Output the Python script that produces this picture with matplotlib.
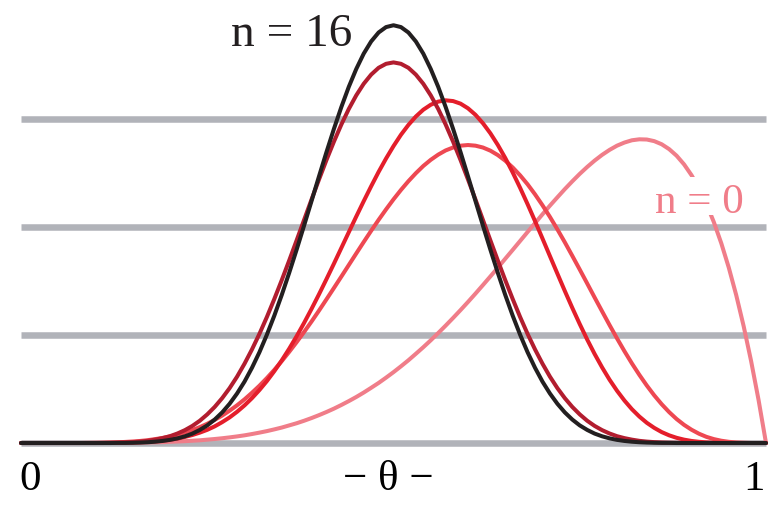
import matplotlib
matplotlib.use("Agg")
import matplotlib.pyplot as plt
from matplotlib.patches import Rectangle
import numpy as np

# theta grid (step 0.01)
theta = np.linspace(0, 1, 101)

# posterior densities, one per sample size n
n0 = [0.000, 0.000, 0.000, 0.000, 0.000, 0.000, 0.000, 0.000, 0.000, 0.000, 0.000, 0.000, 0.001, 0.001, 0.002, 0.003, 0.004,
      0.005, 0.007, 0.008, 0.011, 0.014, 0.017, 0.021, 0.025, 0.031, 0.037, 0.044, 0.052, 0.061, 0.071, 0.083, 0.096, 0.110,
      0.126, 0.143, 0.163, 0.183, 0.206, 0.231, 0.258, 0.287, 0.318, 0.352, 0.388, 0.426, 0.467, 0.511, 0.556, 0.605, 0.656,
      0.710, 0.766, 0.826, 0.887, 0.951, 1.018, 1.087, 1.158, 1.231, 1.306, 1.383, 1.462, 1.542, 1.623, 1.706, 1.788, 1.871,
      1.954, 2.036, 2.118, 2.198, 2.275, 2.351, 2.423, 2.492, 2.556, 2.615, 2.668, 2.714, 2.753, 2.782, 2.803, 2.812, 2.810,
      2.795, 2.766, 2.721, 2.660, 2.580, 2.480, 2.359, 2.215, 2.045, 1.849, 1.625, 1.370, 1.082, 0.759, 0.399, 0.000]
n4 = [0.000, 0.000, 0.000, 0.000, 0.000, 0.000, 0.000, 0.000, 0.000, 0.001, 0.002, 0.003, 0.004, 0.006, 0.010, 0.014, 0.019,
      0.026, 0.036, 0.047, 0.061, 0.077, 0.097, 0.120, 0.147, 0.178, 0.214, 0.254, 0.299, 0.349, 0.404, 0.465, 0.530, 0.601,
      0.677, 0.758, 0.844, 0.934, 1.028, 1.125, 1.226, 1.330, 1.435, 1.541, 1.648, 1.755, 1.861, 1.965, 2.066, 2.163, 2.256,
      2.343, 2.424, 2.498, 2.565, 2.622, 2.670, 2.709, 2.736, 2.753, 2.759, 2.753, 2.736, 2.707, 2.666, 2.614, 2.551, 2.478,
      2.395, 2.302, 2.201, 2.093, 1.978, 1.858, 1.733, 1.606, 1.477, 1.347, 1.219, 1.092, 0.969, 0.850, 0.737, 0.631, 0.532,
      0.441, 0.359, 0.286, 0.222, 0.168, 0.123, 0.086, 0.057, 0.036, 0.021, 0.011, 0.005, 0.002, 0.000, 0.000, 0.000]
n8 = [0.000, 0.000, 0.000, 0.000, 0.000, 0.000, 0.000, 0.000, 0.000, 0.000, 0.000, 0.000, 0.001, 0.002, 0.003, 0.004, 0.007,
      0.010, 0.015, 0.022, 0.030, 0.041, 0.056, 0.074, 0.096, 0.122, 0.154, 0.193, 0.237, 0.289, 0.348, 0.415, 0.490, 0.573,
      0.665, 0.765, 0.873, 0.989, 1.112, 1.242, 1.377, 1.517, 1.660, 1.806, 1.952, 2.097, 2.239, 2.377, 2.510, 2.634, 2.749,
      2.854, 2.945, 3.023, 3.086, 3.132, 3.161, 3.173, 3.166, 3.142, 3.099, 3.039, 2.961, 2.868, 2.760, 2.639, 2.505, 2.362,
      2.211, 2.054, 1.893, 1.730, 1.568, 1.407, 1.251, 1.101, 0.958, 0.824, 0.700, 0.586, 0.484, 0.393, 0.313, 0.245, 0.187,
      0.140, 0.101, 0.071, 0.048, 0.031, 0.019, 0.011, 0.006, 0.003, 0.001, 0.000, 0.000, 0.000, 0.000, 0.000, 0.000]
n12 = [0.000, 0.000, 0.000, 0.000, 0.000, 0.000, 0.000, 0.000, 0.000, 0.000, 0.000, 0.001, 0.002, 0.003, 0.005, 0.008, 0.013,
       0.020, 0.031, 0.045, 0.063, 0.088, 0.119, 0.158, 0.206, 0.265, 0.334, 0.415, 0.508, 0.614, 0.734, 0.866, 1.010, 1.166,
       1.333, 1.508, 1.690, 1.877, 2.066, 2.255, 2.440, 2.620, 2.790, 2.949, 3.093, 3.219, 3.326, 3.411, 3.474, 3.511, 3.524,
       3.511, 3.474, 3.411, 3.326, 3.219, 3.093, 2.949, 2.790, 2.620, 2.440, 2.255, 2.066, 1.877, 1.690, 1.508, 1.333, 1.166,
       1.010, 0.866, 0.734, 0.614, 0.508, 0.415, 0.334, 0.265, 0.206, 0.158, 0.119, 0.088, 0.063, 0.045, 0.031, 0.020, 0.013,
       0.008, 0.005, 0.003, 0.002, 0.001, 0.000, 0.000, 0.000, 0.000, 0.000, 0.000, 0.000, 0.000, 0.000, 0.000, 0.000]
n16 = [0.000, 0.000, 0.000, 0.000, 0.000, 0.000, 0.000, 0.000, 0.000, 0.000, 0.000, 0.000, 0.000, 0.001, 0.001, 0.002, 0.004,
       0.007, 0.012, 0.019, 0.029, 0.043, 0.062, 0.087, 0.121, 0.163, 0.217, 0.283, 0.363, 0.458, 0.568, 0.696, 0.840, 1.002,
       1.179, 1.371, 1.576, 1.791, 2.014, 2.241, 2.469, 2.693, 2.908, 3.111, 3.298, 3.463, 3.605, 3.718, 3.801, 3.851, 3.868,
       3.851, 3.801, 3.718, 3.605, 3.463, 3.298, 3.111, 2.908, 2.693, 2.469, 2.241, 2.014, 1.791, 1.576, 1.371, 1.179, 1.002,
       0.840, 0.696, 0.568, 0.458, 0.363, 0.283, 0.217, 0.163, 0.121, 0.087, 0.062, 0.043, 0.029, 0.019, 0.012, 0.007, 0.004,
       0.002, 0.001, 0.001, 0.000, 0.000, 0.000, 0.000, 0.000, 0.000, 0.000, 0.000, 0.000, 0.000, 0.000, 0.000, 0.000]

series = [n0, n4, n8, n12, n16]
colors = ["#f07d89", "#ee4852", "#e41e2b", "#b21d2f", "#231f20"]
grid_levels = [0, 1, 2, 3]
tick_labels = ["0", "\u2212 \u03b8 \u2212", "1"]
label_n0 = "n = 0"
label_n16 = "n = 16"

W, H = 783, 527
fig = plt.figure(figsize=(W / 100, H / 100), dpi=100)
ax = fig.add_axes([0, 0, 1, 1])
# pixel mapping: x=0 -> 21px, x=1 -> 766px ; y=0 -> 443px, 1 unit = 108px
x0, x1 = 21, 766
y0, yu = 443, 108
ax.set_xlim(-x0 / (x1 - x0), (W - x0) / (x1 - x0))
ax.set_ylim(-(H - y0) / yu, y0 / yu)
ax.axis("off")

ax.hlines(grid_levels, 0, 1, colors="#b1b3b9", linewidth=4.7, zorder=1, capstyle="butt")

for vals, c in zip(series, colors):
    ax.plot(theta, vals, color=c, linewidth=2.9, solid_capstyle="round",
            solid_joinstyle="round", zorder=3, clip_on=False)

font = "Liberation Serif"
fs = 31
ax.text(0.012, -0.435, tick_labels[0], ha="center", va="baseline", fontsize=fs, family=font)
ax.text(0.4926, -0.435, tick_labels[1], ha="center", va="baseline", fontsize=fs, family=font)
ax.text(0.984, -0.435, tick_labels[2], ha="center", va="baseline", fontsize=fs, family=font)

ax.text(0.363, 3.676, label_n16, ha="center", va="baseline", fontsize=34, family=font,
        color="#231f20", zorder=5)
# white knock-out behind the n = 0 label
ax.add_patch(Rectangle((0.847, 2.111), 0.128, 0.352, facecolor="white", edgecolor="none",
                       zorder=4))
ax.text(0.911, 2.13, label_n0, ha="center", va="baseline", fontsize=fs, family=font,
        color="#f07d89", zorder=5)

fig.savefig("out.png", dpi=100)
